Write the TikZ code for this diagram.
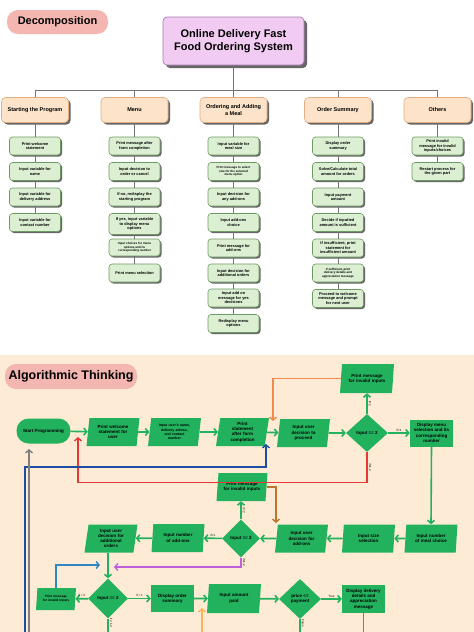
\documentclass[tikz,border=0pt]{standalone}
\usepackage{fontspec}
\setmainfont{Liberation Sans}
\usetikzlibrary{arrows.meta,shapes.geometric,shadows}

\definecolor{pillpink}{HTML}{F4B6B0}
\definecolor{titlefill}{HTML}{F2CBF2}
\definecolor{titleedge}{HTML}{A57BB0}
\definecolor{catfill}{HTML}{FCE3C9}
\definecolor{catedge}{HTML}{E2AE82}
\definecolor{leaffill}{HTML}{DCEFD3}
\definecolor{leafedge}{HTML}{6C9A62}
\definecolor{flowgreen}{HTML}{22B25E}
\definecolor{peachbg}{HTML}{FDEBD6}
\definecolor{redline}{HTML}{E53935}
\definecolor{blueline}{HTML}{1C4DA1}
\definecolor{grayline}{HTML}{7F7F7F}
\definecolor{orangeline}{HTML}{F28A4C}
\definecolor{brownline}{HTML}{B8782B}
\definecolor{magentaline}{HTML}{C05EDB}
\definecolor{steelline}{HTML}{2F86C4}
\definecolor{lightorange}{HTML}{F9B45A}

\tikzset{
	boxshadow/.style={drop shadow={shadow xshift=#1, shadow yshift=-#1, fill=black!60, opacity=1}},
	pill/.style={fill=pillpink, rounded corners=11pt, inner sep=0pt, font=\bfseries\fontsize{11}{12}\selectfont},
	titlebox/.style={fill=titlefill, draw=titleedge, line width=0.7pt, rounded corners=4pt, minimum width=141, minimum height=48, align=center, font=\bfseries\fontsize{11}{13.5}\selectfont, boxshadow=3pt},
	catbox/.style={fill=catfill, draw=catedge, line width=0.6pt, rounded corners=4pt, minimum width=67, minimum height=25, inner sep=1pt, align=center, font=\bfseries\fontsize{5.5}{6.5}\selectfont, boxshadow=2pt},
	leafbox/.style={fill=leaffill, draw=leafedge, line width=0.6pt, rounded corners=3pt, minimum width=51, minimum height=18, inner sep=1pt, align=center, font=\bfseries\fontsize{3.9}{4.6}\selectfont, boxshadow=1.5pt},
	tinyleaf/.style={leafbox, font=\bfseries\fontsize{3}{3.6}\selectfont},
	treeline/.style={draw=black!55, line width=0.6pt},
	flowpara/.style={trapezium, trapezium left angle=78, trapezium right angle=102, trapezium stretches body=true, fill=flowgreen, minimum width=53, minimum height=28, inner xsep=0pt, inner ysep=0pt, text width=40, align=center, font=\bfseries\fontsize{4.5}{5.3}\selectfont},
	flowbox/.style={rectangle, fill=flowgreen, minimum width=43, minimum height=27, inner sep=0.5pt, align=center, font=\bfseries\fontsize{4.5}{5.3}\selectfont},
	flowdiam/.style={diamond, fill=flowgreen, minimum width=42, minimum height=38, inner sep=0pt, align=center, font=\bfseries\fontsize{4.5}{5.3}\selectfont},
	startbox/.style={fill=flowgreen, rounded corners=12pt, minimum width=54, minimum height=25, inner sep=0pt, font=\bfseries\fontsize{4.5}{5.3}\selectfont},
	flowarrow/.style={draw=flowgreen, line width=1.6pt, -{Straight Barb[length=3pt,width=7pt]}},
	loopline/.style={line width=1.4pt, -{Straight Barb[length=3pt,width=7pt]}},
	iflabel/.style={font=\fontsize{3}{3}\selectfont, inner sep=1pt}
}

\begin{document}
\begin{tikzpicture}[x=1pt,y=-1pt]
		%%%%% START %%%%%
		\useasboundingbox (0,0) rectangle (474,632);
		\fill[white] (0,0) rectangle (474,355);
		\fill[peachbg] (0,355) rectangle (474,632);
		
		% decomposition
		\node[pill, minimum width=101, minimum height=24] (decomp) at (57.5,22) {Decomposition};
		\node[titlebox] (system) at (233.5,41) {Online Delivery Fast\\Food Ordering System};
		\coordinate (bus) at (233.5,90);
		
		\node[catbox] (catprog) at (35,110) {Starting the Program};
		\node[catbox] (catmenu) at (134.5,110) {Menu};
		\node[catbox] (catmeal) at (233.5,110) {Ordering and Adding\\a Meal};
		\node[catbox] (catsum) at (338,110) {Order Summary};
		\node[catbox] (catmisc) at (437.5,110) {Others};
		
		\node[leafbox] (prog1) at (35,146) {Print welcome\\statement};
		\node[leafbox] (prog2) at (35,171.5) {Input variable for\\name};
		\node[leafbox] (prog3) at (35,197) {Input variable for\\delivery address};
		\node[leafbox] (prog4) at (35,222.5) {Input variable for\\contact number};
		
		\node[leafbox] (menu1) at (134.5,146) {Print message after\\form completion};
		\node[leafbox] (menu2) at (134.5,171.5) {Input decision to\\order or cancel};
		\node[leafbox] (menu3) at (134.5,197) {If no, redisplay the\\starting program};
		\node[leafbox, minimum height=21] (menu4) at (134.5,224) {If yes, input variable\\to display menu\\options};
		\node[tinyleaf, minimum height=17] (menu5) at (134.5,247.5) {Input choices for menu\\options and its\\corresponding number};
		\node[leafbox] (menu6) at (134.5,273) {Print menu selection};
		
		\node[leafbox] (meal1) at (233.5,146) {Input variable for\\meal size};
		\node[tinyleaf] (meal2) at (233.5,171.5) {Print message to select\\size for the selected\\menu option};
		\node[leafbox] (meal3) at (233.5,197) {Input decision for\\any add-ons};
		\node[leafbox] (meal4) at (233.5,222.5) {Input add-ons\\choice};
		\node[leafbox] (meal5) at (233.5,248) {Print message for\\add-ons};
		\node[leafbox] (meal6) at (233.5,273) {Input decision for\\additional orders};
		\node[leafbox] (meal7) at (233.5,298) {Input add on\\message for yes\\decisions};
		\node[leafbox] (meal8) at (233.5,323.5) {Redisplay menu\\options};
		
		\node[leafbox] (sum1) at (338,146) {Display order\\summary};
		\node[leafbox] (sum2) at (338,171.5) {Solve/Calculate total\\amount for orders};
		\node[leafbox] (sum3) at (338,197) {Input payment\\amount};
		\node[leafbox] (sum4) at (338,222.5) {Decide if inputted\\amount is sufficient};
		\node[leafbox] (sum5) at (338,248) {If insufficient, print\\statement for\\insufficient amount};
		\node[tinyleaf] (sum6) at (338,273) {If sufficient, print\\delivery details and\\appreciation message};
		\node[leafbox] (sum7) at (338,298.5) {Proceed to welcome\\message and prompt\\for next user};
		
		\node[leafbox] (misc1) at (437.5,146) {Print invalid\\message for invalid\\inputs/choices};
		\node[leafbox] (misc2) at (437.5,171.5) {Restart process for\\the given part};
		
		\draw[treeline] (system.south) -- (bus);
		\draw[treeline] (bus) -| (catprog.north);
		\draw[treeline] (bus) -| (catmenu.north);
		\draw[treeline] (bus) -- (catmeal.north);
		\draw[treeline] (bus) -| (catsum.north);
		\draw[treeline] (bus) -| (catmisc.north);
		\draw[treeline] (catprog) -- (prog1) -- (prog2) -- (prog3) -- (prog4);
		\draw[treeline] (catmenu) -- (menu1) -- (menu2) -- (menu3) -- (menu4) -- (menu5) -- (menu6);
		\draw[treeline] (catmeal) -- (meal1) -- (meal2) -- (meal3) -- (meal4) -- (meal5) -- (meal6) -- (meal7) -- (meal8);
		\draw[treeline] (catsum) -- (sum1) -- (sum2) -- (sum3) -- (sum4) -- (sum5) -- (sum6) -- (sum7);
		\draw[treeline] (catmisc) -- (misc1) -- (misc2);
		
		% algorithmic thinking
		\node[pill, minimum width=132, minimum height=25, font=\bfseries\fontsize{12.5}{14}\selectfont] (algo) at (71,376.5) {Algorithmic Thinking};
		
		\node[startbox] (fstart) at (43.5,431) {Start Programming};
		\node[flowpara] (fwelcome) at (113,432) {Print welcome\\statement for\\user};
		\node[flowpara, font=\bfseries\fontsize{3.5}{4.2}\selectfont] (fform) at (174.5,432) {Input user's name,\\delivery adress,\\and contact\\number};
		\node[flowpara, text width=36] (fdone) at (242.5,432) {Print\\statement\\after form\\completion};
		\node[flowpara] (fproceed) at (303.5,433) {Input user\\decision to\\proceed};
		\node[flowdiam] (fcheckA) at (367,433) {Input == 2};
		\node[flowbox] (fshow) at (431.5,433) {Display menu\\selection and its\\corresponding\\number};
		\node[flowpara, minimum width=54, minimum height=29] (finvalidA) at (367,378.5) {Print message\\for invalid inputs};
		
		\node[flowpara] (fmeal) at (431,538.5) {Input number\\of meal choice};
		\node[flowpara] (fsize) at (368.5,538.5) {Input size\\selection};
		\node[flowpara] (faddon) at (301.5,538.5) {Input user\\decision for\\add-ons};
		\node[flowdiam, minimum width=38] (fcheckB) at (241,538.5) {Input == 2};
		\node[flowpara, minimum width=51] (finvalidB) at (242,487) {Print message\\for invalid inputs};
		\node[flowpara] (fnumadd) at (178,538) {Input number\\of add-ons};
		\node[flowpara] (fmore) at (111,538.5) {Input user\\decision for\\additional\\orders};
		
		\node[flowdiam, minimum width=40, minimum height=40] (fcheckC) at (108,598.5) {Input == 2};
		\node[flowpara, text width=30, minimum width=40, minimum height=22, font=\bfseries\fontsize{3.2}{3.8}\selectfont] (finvalidC) at (56,599) {Print message\\for invalid inputs};
		\node[flowbox] (fsummary) at (172.5,598.5) {Display order\\summary};
		\node[flowpara, minimum width=54, minimum height=29] (fpaid) at (234,598.5) {Input amount\\paid};
		\node[flowdiam, minimum height=40] (fprice) at (300,599) {price <=\\payment};
		\node[flowbox, minimum height=28] (fdeliver) at (363.5,599) {Display delivery\\details and\\appreciation\\message};
		
		\coordinate (redend) at (78,437);
		\coordinate (blue0) at (25,632);
		\coordinate (blueend) at (266,444);
		\coordinate (gray0) at (29,632);
		\coordinate (grayend) at (29,449);
		\coordinate (orangeend) at (273,421);
		\coordinate (brownend) at (276,523);
		\coordinate (magend) at (114,567);
		\coordinate (steelend) at (100,565);
		\coordinate (lorange0) at (202,632);
		\coordinate (lorangeend) at (202,608);
		\coordinate (endC) at (108,632);
		\coordinate (endD) at (300,632);
		\coordinate (endE) at (363.5,632);
		
		\draw[flowarrow] (fstart) -- (fwelcome);
		\draw[flowarrow] (fwelcome) -- (fform);
		\draw[flowarrow] (fform) -- (fdone);
		\draw[flowarrow] (fdone) -- (fproceed);
		\draw[flowarrow] (fproceed) -- (fcheckA);
		\draw[flowarrow] (fcheckA) -- node[iflabel, above] {if=1} (fshow);
		\draw[flowarrow] (fcheckA) -- node[iflabel, rotate=-90, anchor=south] {if=2} (finvalidA);
		\draw[flowarrow] (fshow.south) -- (fmeal.north);
		\draw[flowarrow] (fmeal) -- (fsize);
		\draw[flowarrow] (fsize) -- (faddon);
		\draw[flowarrow] (faddon) -- (fcheckB);
		\draw[flowarrow] (fcheckB) -- node[iflabel, above] {if=1} (fnumadd);
		\draw[flowarrow] (fcheckB.north) -- node[iflabel, rotate=-90, anchor=south] {if=2} (fcheckB.north |- finvalidB.south);
		\draw[flowarrow] (fnumadd) -- (fmore);
		\draw[flowarrow] (fcheckC.north |- fmore.south) -- (fcheckC.north);
		\draw[flowarrow] (fcheckC) -- node[iflabel, above] {if = 2} (finvalidC);
		\draw[flowarrow] (fcheckC) -- node[iflabel, above] {if = 1} (fsummary);
		\draw[draw=flowgreen, line width=1.6pt] (fcheckC.south) -- node[iflabel, rotate=-90, anchor=south, pos=0.3] {if ≠ 1,2} (endC);
		\draw[flowarrow] (fsummary) -- (fpaid);
		\draw[flowarrow] (fpaid) -- (fprice);
		\draw[flowarrow] (fprice) -- node[iflabel, above] {True} (fdeliver);
		\draw[draw=flowgreen, line width=1.6pt] (fprice.south) -- node[iflabel, rotate=-90, anchor=south, pos=0.3] {False} (endD);
		\draw[draw=grayline, line width=1.2pt] (fdeliver.south) -- (endE);
		
		\draw[loopline, draw=orangeline] (finvalidA.west) -| (orangeend);
		\draw[loopline, draw=redline] (fcheckA.south) -- node[iflabel, rotate=-90, anchor=south] {if≠1,2} ++(0,30) -| (redend);
		\draw[loopline, draw=blueline] (blue0) -- ++(0,-165) -| (blueend);
		\draw[loopline, draw=grayline] (gray0) -- (grayend);
		\draw[loopline, draw=brownline] (finvalidB.east) -| (brownend);
		\draw[loopline, draw=magentaline] (fcheckB.south) |- node[iflabel, rotate=-90, anchor=south, pos=0.25] {if≠1,2} (magend);
		\draw[loopline, draw=steelline] (finvalidC.north) |- (steelend);
		\draw[loopline, draw=lightorange] (lorange0) -- (lorangeend);
		
		%%%%% END %%%%%
\end{tikzpicture}
\end{document}
